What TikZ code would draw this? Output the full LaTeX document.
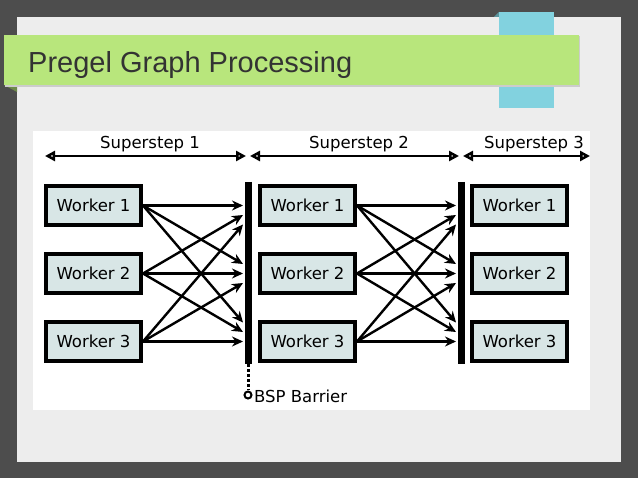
\documentclass[tikz,border=0pt]{standalone}
\usepackage{fontspec}
\setmainfont{DejaVu Sans}
\newfontfamily\titlefont{Liberation Sans}
\usetikzlibrary{arrows.meta}
\definecolor{slidebg}{HTML}{4D4D4D}
\definecolor{paper}{HTML}{EDEDED}
\definecolor{band}{HTML}{B8E67C}
\definecolor{tab}{HTML}{82D2DF}
\definecolor{boxfill}{HTML}{D8E6E6}
\begin{document}
\begin{tikzpicture}[x=1pt,y=-1pt,
  worker/.style={draw, line width=4pt, fill=boxfill, minimum width=95pt, minimum height=39pt, inner sep=0pt, font=\fontsize{16.5}{18}\selectfont},
  msg/.style={-{Stealth[length=11pt,width=10pt]}, line width=2.4pt},
  span/.style={{Triangle[open,length=10pt,width=10pt]}-{Triangle[open,length=10pt,width=10pt]}, line width=2.8pt},
  lbl/.style={font=\fontsize{16.5}{18}\selectfont, inner sep=0pt}]
\useasboundingbox (0,0) rectangle (638,478);
\fill[slidebg] (0,0) rectangle (638,478);
\fill[paper] (17,17) rectangle (621,462);
\fill[tab!70!black] (494,17) -- (499,12) -- (499,17) -- cycle;
\fill[tab] (499,12) rectangle (554,108);
\fill[band!60!black] (4,85) -- (17,85) -- (17,92) -- cycle;
\fill[black!20] (5,36) rectangle (580,87);
\fill[band] (4,35) rectangle (579,85);
\node[anchor=base west, inner sep=0pt, text=black!80, font=\titlefont\fontsize{29}{32}\selectfont] (title) at (28,73) {Pregel Graph Processing};
\fill[white] (33,131) rectangle (590,410);
% workers
\foreach \c/\x in {a/93.5, b/307.5, c/519.5}
  \foreach \r/\y in {1/205.5, 2/273.5, 3/341.5}
    \node[worker] (\c\r) at (\x,\y) {Worker \r};
% barriers
\coordinate (t1) at (248,182); \coordinate (u1) at (248,364);
\coordinate (t2) at (461,182); \coordinate (u2) at (461,364);
\draw[line width=7pt] (t1) -- (u1);
\draw[line width=7pt] (t2) -- (u2);
% messages
\foreach \s/\t/\b in {a/b/243, b/c/456}
  \foreach \i in {1,2,3}
    \foreach \j/\yj in {1/205.5, 2/273.5, 3/341.5} {
      \pgfmathsetmacro{\ty}{\yj+(\i-\j)*9.5}
      \coordinate (e) at (\b,\ty);
      \draw[msg] (\s\i.east) -- (e);
    }
% supersteps
\coordinate (s1a) at (45,156); \coordinate (s1b) at (246,156);
\coordinate (s2a) at (250,156); \coordinate (s2b) at (459,156);
\coordinate (s3a) at (463,156); \coordinate (s3b) at (590,156);
\draw[span] (s1a) -- (s1b);
\draw[span] (s2a) -- (s2b);
\draw[span] (s3a) -- (s3b);
\node[lbl, anchor=base] (l1) at (150,149) {Superstep 1};
\node[lbl, anchor=base] (l2) at (359,149) {Superstep 2};
\node[lbl, anchor=base] (l3) at (534,149) {Superstep 3};
% BSP barrier label
\coordinate (p) at (248,395);
\draw[line width=3pt, dotted] (u1) -- (248,390);
\draw[line width=2pt, fill=white] (p) circle (3.5pt);
\node[lbl, anchor=west] (bsp) at (254,396) {BSP Barrier};
\end{tikzpicture}
\end{document}
